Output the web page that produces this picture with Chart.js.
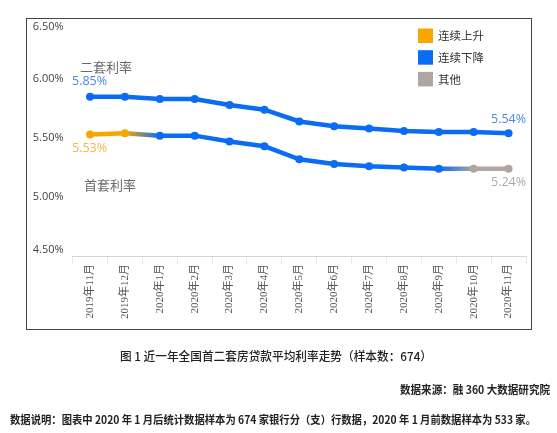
<!DOCTYPE html>
<html>
<head>
<meta charset="utf-8">
<script src="https://cdn.jsdelivr.net/npm/chart.js@4/dist/chart.umd.min.js"></script>
<style>
  body { margin: 0; background: #fff; width: 557px; height: 433px; position: relative; overflow: hidden; }
  #frame { position: absolute; left: 26px; top: 18px; width: 504px; height: 310px; border: 1.5px solid #444; }
  #chart { position: absolute; left: 0; top: 0; }
  .txt { position: absolute; font-family: "Noto Sans CJK SC", sans-serif; color: #222; white-space: nowrap; }
  #caption { left: 120px; top: 347px; font-size: 12px; font-weight: 500; transform-origin: 0 0; }
  #source { left: 400px; top: 381px; font-size: 11px; font-weight: 700; transform-origin: 0 0; }
  #note { left: 10px; top: 411px; font-size: 11px; font-weight: 700; transform-origin: 0 0; }
</style>
</head>
<body>
<div id="frame"></div>
<canvas id="chart" width="557" height="433"></canvas>
<div class="txt" id="caption">图 1 近一年全国首二套房贷款平均利率走势（样本数：674）</div>
<div class="txt" id="source">数据来源：融 360 大数据研究院</div>
<div class="txt" id="note">数据说明：图表中 2020 年 1 月后统计数据样本为 674 家银行分（支）行数据，2020 年 1 月前数据样本为 533 家。</div>
<script>
const months = ['2019年11月', '2019年12月', '2020年1月', '2020年2月', '2020年3月', '2020年4月',
  '2020年5月', '2020年6月', '2020年7月', '2020年8月', '2020年9月', '2020年10月', '2020年11月'];
const secondRate = [5.85, 5.85, 5.83, 5.83, 5.78, 5.74, 5.64, 5.60, 5.58, 5.56, 5.55, 5.55, 5.54];
const firstRate = [5.53, 5.54, 5.52, 5.52, 5.47, 5.43, 5.32, 5.28, 5.26, 5.25, 5.24, 5.24, 5.24];
const seriesNames = ['二套利率', '首套利率'];
// trend of each point: up / down / other
const secondTrend = ['down', 'down', 'down', 'down', 'down', 'down', 'down', 'down', 'down', 'down', 'down', 'down', 'down'];
const firstTrend = ['up', 'up', 'down', 'down', 'down', 'down', 'down', 'down', 'down', 'down', 'down', 'other', 'other'];
const trendNames = ['连续上升', '连续下降', '其他'];
const yTicks = [4.5, 5.0, 5.5, 6.0, 6.5];

const trendColor = { up: '#F7A600', down: '#0A6CF2', other: '#AFA5A2' };
const labelColor = { up: '#F4B748', down: '#4A88E0', other: '#AAAAAA' };
const legendKeys = ['up', 'down', 'other'];

// squeeze the text lines under the frame to the width they have in the figure
[['caption', 312], ['source', 150], ['note', 526]].forEach(([id, w]) => {
  const el = document.getElementById(id);
  el.style.transform = 'scaleX(' + (w / el.getBoundingClientRect().width) + ')';
});

function segColor(trend) {
  return (ctx) => {
    const a = trend[ctx.p0DataIndex], b = trend[ctx.p1DataIndex];
    if (a === b) return trendColor[a];
    const g = ctx.chart.ctx.createLinearGradient(ctx.p0.x, 0, ctx.p1.x, 0);
    g.addColorStop(0, trendColor[a]);
    g.addColorStop(1, trendColor[b]);
    return g;
  };
}

const fmt = (v) => v.toFixed(2) + '%';

// series names and end values written next to the lines
const annotations = {
  id: 'annotations',
  afterDatasetsDraw(chart) {
    const c = chart.ctx;
    const top = chart.getDatasetMeta(0).data;
    const bot = chart.getDatasetMeta(1).data;
    const n = months.length - 1;
    c.save();
    c.textBaseline = 'middle';
    c.font = '13px "Noto Sans CJK SC", sans-serif';
    c.fillStyle = '#6a6a6a';
    c.textAlign = 'left';
    c.fillText(seriesNames[0], top[0].x - 10, top[0].y - 30);
    c.fillText(seriesNames[1], bot[0].x - 6, bot[0].y + 51);

    c.font = '12.5px "Open Sans", sans-serif';
    c.fillStyle = labelColor[secondTrend[0]];
    c.fillText(fmt(secondRate[0]), top[0].x - 18, top[0].y - 15);
    c.fillStyle = labelColor[firstTrend[0]];
    c.fillText(fmt(firstRate[0]), bot[0].x - 18, bot[0].y + 14);

    c.textAlign = 'center';
    c.fillStyle = labelColor[secondTrend[n]];
    c.fillText(fmt(secondRate[n]), top[n].x, top[n].y - 14);
    c.fillStyle = labelColor[firstTrend[n]];
    c.fillText(fmt(firstRate[n]), bot[n].x, bot[n].y + 14);
    c.restore();
  }
};

const trendLegend = {
  id: 'trendLegend',
  afterDraw(chart) {
    const c = chart.ctx;
    c.save();
    c.textBaseline = 'middle';
    c.textAlign = 'left';
    c.font = '11.5px "Noto Sans CJK SC", sans-serif';
    trendNames.forEach((name, i) => {
      const y = 28.5 + i * 21.7;
      c.fillStyle = trendColor[legendKeys[i]];
      c.fillRect(418, y, 15, 14.5);
      c.fillStyle = '#333';
      c.fillText(name, 438, y + 7.5);
    });
    c.restore();
  }
};

new Chart(document.getElementById('chart'), {
  type: 'line',
  data: {
    labels: months,
    datasets: [
      {
        label: seriesNames[0],
        data: secondRate,
        borderWidth: 4.5,
        pointRadius: 4,
        pointBackgroundColor: secondTrend.map(t => trendColor[t]),
        pointBorderWidth: 0,
        segment: { borderColor: segColor(secondTrend) },
        tension: 0
      },
      {
        label: seriesNames[1],
        data: firstRate,
        borderWidth: 4.5,
        pointRadius: 4,
        pointBackgroundColor: firstTrend.map(t => trendColor[t]),
        pointBorderWidth: 0,
        segment: { borderColor: segColor(firstTrend) },
        tension: 0
      }
    ]
  },
  options: {
    responsive: false,
    animation: false,
    layout: { padding: { top: 20, right: 31, left: 0, bottom: 0 } },
    plugins: { legend: { display: false }, tooltip: { enabled: false } },
    scales: {
      x: {
        offset: true,
        grid: { offset: true, drawOnChartArea: false, tickLength: 8, color: '#e8e8e8' },
        border: { color: '#d6d6d6' },
        ticks: {
          autoSkip: false, minRotation: 90, maxRotation: 90, padding: 0,
          color: '#555', font: { size: 11, family: '"Liberation Serif", "Noto Sans CJK SC", serif' }
        },
        afterFit(s) { s.height = 177; }
      },
      y: {
        min: 4.5, max: 6.5,
        afterBuildTicks(s) { s.ticks = yTicks.map(v => ({ value: v })); },
        grid: { display: false },
        border: { display: false },
        ticks: {
          padding: 1, color: '#444',
          font: { size: 11, family: '"Open Sans", sans-serif' },
          // end labels sit half a line inside the plot, as in the figure
          callback: (v) => v >= 6.5 ? ['', fmt(v)] : v <= 4.5 ? [fmt(v), ''] : fmt(v)
        },
        afterFit(s) { s.width = 72.6; }
      }
    }
  },
  plugins: [annotations, trendLegend]
});
</script>
</body>
</html>
